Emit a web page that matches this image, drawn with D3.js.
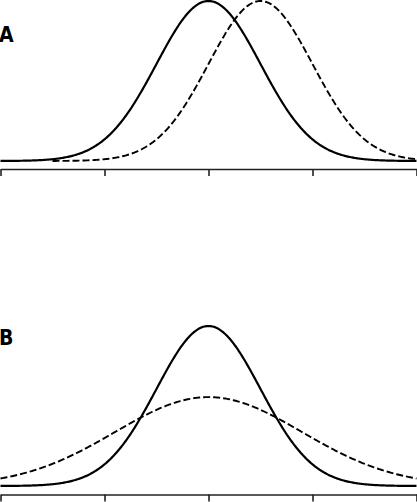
<!DOCTYPE html>
<html>
<head>
<meta charset="utf-8">
<script src="https://cdn.jsdelivr.net/npm/d3@7"></script>
<style>
  html, body { margin: 0; padding: 0; background: #fff; }
  svg { display: block; }
  .lbl { font-family: "Liberation Sans Narrow", "Arial Narrow", "DejaVu Sans Condensed", sans-serif; font-weight: bold; font-size: 21px; fill: #000; }
</style>
</head>
<body>
<svg id="chart" width="417" height="502"></svg>
<script>
// ---- data ----
const panelLabels = ["A", "B"];
// normal distributions per panel: [solid, dashed]
const panelMeans = [[0, 1], [0, 0]];
const panelSDs   = [[1, 1], [1, 1.8]];
const seriesStyles = ["solid", "dashed"];
const xDomain = [-4, 4];
const tickValues = [-4, -2, 0, 2, 4];

// ---- layout ----
const panelLayout = [
  { base: 161, axisY: 169, labelY: 41.5 },
  { base: 486, axisY: 494.5, labelY: 345 }
];
const peakPx = 160; // pixel height of density 1/sqrt(2*pi)

const svg = d3.select("#chart");
const x = d3.scaleLinear().domain(xDomain).range([0.5, 416.5]);
const pdf = (v, m, s) => Math.exp(-((v - m) ** 2) / (2 * s * s)) / (s * Math.sqrt(2 * Math.PI));

panelLabels.forEach((lab, i) => {
  const L = panelLayout[i];
  const y = d3.scaleLinear().domain([0, 1 / Math.sqrt(2 * Math.PI)]).range([L.base, L.base - peakPx]);
  const g = svg.append("g");

  // axis
  const axis = d3.axisBottom(x).tickValues(tickValues).tickSize(7).tickSizeOuter(0).tickFormat("");
  const ag = g.append("g").attr("transform", `translate(0,${L.axisY})`).call(axis);
  ag.select(".domain").attr("stroke", "#222").attr("stroke-width", 1.4);
  ag.selectAll(".tick line").attr("stroke", "#222").attr("stroke-width", 1.6);

  // curves
  panelMeans[i].forEach((m, j) => {
    const s = panelSDs[i][j];
    const lo = Math.max(xDomain[0], m - 4 * s), hi = Math.min(xDomain[1], m + 4 * s);
    const pts = d3.range(0, 401).map(k => lo + (hi - lo) * k / 400);
    const line = d3.line().x(v => x(v)).y(v => y(pdf(v, m, s)));
    g.append("path")
      .datum(pts)
      .attr("d", line)
      .attr("fill", "none")
      .attr("stroke", "#000")
      .attr("stroke-width", seriesStyles[j] === "solid" ? 2.2 : 1.9)
      .attr("stroke-dasharray", seriesStyles[j] === "solid" ? null : "7,3");
  });

  g.append("text").attr("class", "lbl").attr("x", -1).attr("y", L.labelY).text(lab);
});
</script>
</body>
</html>
